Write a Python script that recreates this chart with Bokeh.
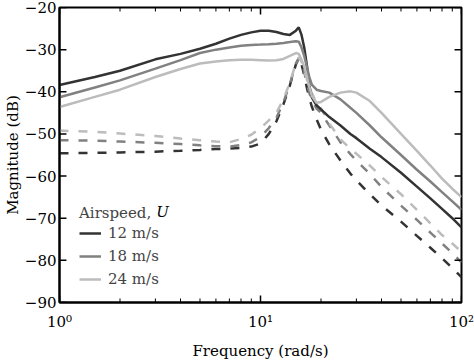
from bokeh.plotting import figure
from bokeh.models import Legend, LegendItem, Label, FixedTicker
from bokeh.embed import file_html
from bokeh.resources import INLINE

# ---------------- data ----------------
freq = [1, 1.5, 2, 3, 4, 5, 6, 7, 8, 9, 10, 11, 12, 13, 14, 15, 15.5, 16,
        16.5, 17, 17.5, 18, 19, 20, 22, 25, 28, 30, 35, 40, 50, 60, 70, 80,
        90, 100]

solid_12 = [-38.4, -36.5, -35.0, -32.3, -31.0, -29.8, -28.6, -27.4, -26.5,
            -25.9, -25.5, -25.5, -25.8, -26.3, -26.5, -25.5, -24.7, -26.5,
            -29.5, -33.6, -38.5, -41.3, -43.2, -44.2, -46.0, -48.0, -50.0,
            -51.0, -53.5, -55.5, -59.2, -62.5, -65.3, -67.8, -70.0, -72.2]
solid_18 = [-41.3, -39.0, -37.3, -34.5, -32.5, -30.8, -30.0, -29.5, -29.1,
            -28.9, -28.8, -28.7, -28.6, -28.4, -28.2, -28.0, -28.1, -29.5,
            -31.5, -34.0, -36.5, -38.3, -39.5, -39.8, -40.2, -41.8, -43.8,
            -45.0, -48.0, -50.8, -55.0, -58.5, -61.3, -63.8, -66.0, -68.0]
solid_24 = [-43.6, -41.2, -39.5, -36.5, -34.6, -33.3, -32.8, -32.5, -32.4,
            -32.4, -32.5, -32.6, -32.5, -32.2, -31.5, -30.8, -31.0, -32.4,
            -34.0, -36.3, -38.8, -41.0, -42.6, -42.4, -41.2, -40.2, -39.9,
            -40.2, -42.2, -45.0, -50.0, -54.0, -57.5, -60.6, -63.0, -65.0]

dash_12 = [-54.6, -54.5, -54.4, -54.2, -54.0, -53.8, -53.6, -53.5, -53.3,
           -53.0, -52.3, -50.0, -47.0, -43.0, -38.5, -33.5, -32.0, -33.5,
           -36.0, -39.0, -41.5, -43.5, -46.5, -49.0, -52.5, -56.3, -59.4,
           -61.0, -64.3, -67.0, -70.8, -74.2, -77.0, -79.5, -81.8, -84.0]
dash_18 = [-51.5, -51.6, -51.8, -52.1, -52.4, -52.7, -52.9, -53.0, -52.6,
           -52.0, -50.7, -48.6, -46.2, -42.5, -38.2, -33.3, -32.0, -33.0,
           -35.3, -38.0, -40.3, -42.0, -44.0, -45.0, -48.0, -52.0, -54.8,
           -56.3, -59.5, -62.6, -67.0, -70.4, -73.4, -76.0, -78.3, -80.5]
dash_24 = [-49.2, -49.5, -49.9, -50.5, -51.1, -51.5, -51.8, -52.0, -51.2,
           -50.2, -48.6, -46.8, -45.0, -41.8, -37.8, -33.2, -31.8, -32.8,
           -34.8, -37.0, -38.8, -40.3, -42.5, -44.0, -47.5, -51.3, -53.5,
           -54.7, -57.5, -60.2, -64.3, -68.0, -71.2, -74.0, -76.0, -78.0]

series_labels = ["12 m/s", "18 m/s", "24 m/s"]
series_colors = ["#333333", "#818181", "#bcbcbc"]
legend_title = "Airspeed,"
legend_title_symbol = "U"

y_ticks = [-90, -80, -70, -60, -50, -40, -30, -20]
y_tick_labels = ["\u221290", "\u221280", "\u221270", "\u221260", "\u221250",
                 "\u221240", "\u221230", "\u221220"]
x_ticks = [1, 10, 100]
x_minor_ticks = [2, 3, 4, 5, 6, 7, 8, 9, 20, 30, 40, 50, 60, 70, 80, 90]
x_tick_labels = ["10\u2070", "10\u00b9", "10\u00b2"]

FONT = "DejaVu Serif"
FS = "15px"

X_MIN, X_MAX = 1, 100
Y_MIN, Y_MAX = -90, -20

p = figure(width=474, height=362, x_axis_type="log", x_range=(X_MIN, X_MAX),
           y_range=(Y_MIN, Y_MAX), output_backend="svg",
           toolbar_location=None, min_border_left=0, min_border_right=13,
           min_border_top=7, min_border_bottom=60)
p.grid.visible = False
p.outline_line_color = "black"
p.outline_line_width = 2
p.background_fill_color = None
p.border_fill_color = "white"

solids = [solid_12, solid_18, solid_24]
dashes = [dash_12, dash_18, dash_24]
solid_renderers = []
for vals, col in zip(dashes, series_colors):
    p.line(freq, vals, line_color=col, line_width=2.5, line_dash="9 10")
for vals, col in zip(solids, series_colors):
    r = p.line(freq, vals, line_color=col, line_width=2.5)
    solid_renderers.append(r)

# inward tick marks on all four sides (lengths in data units)
maj_dy, min_dy = 1.65, 0.95          # ~7 px / ~4 px vertically
maj_fx = 1.083                        # ~7 px horizontally on log axis
tick_kw = dict(line_color="black")
nb, nm = len(x_ticks), len(x_minor_ticks)
p.segment(x_ticks, [Y_MIN] * nb, x_ticks, [Y_MIN + maj_dy] * nb,
          line_width=1.5, **tick_kw)
p.segment(x_ticks, [Y_MAX] * nb, x_ticks, [Y_MAX - maj_dy] * nb,
          line_width=1.5, **tick_kw)
p.segment(x_minor_ticks, [Y_MIN] * nm, x_minor_ticks,
          [Y_MIN + min_dy] * nm, line_width=1, **tick_kw)
p.segment(x_minor_ticks, [Y_MAX] * nm, x_minor_ticks,
          [Y_MAX - min_dy] * nm, line_width=1, **tick_kw)
ny = len(y_ticks)
p.segment([X_MIN] * ny, y_ticks, [X_MIN * maj_fx] * ny, y_ticks,
          line_width=1.5, **tick_kw)
p.segment([X_MAX] * ny, y_ticks, [X_MAX / maj_fx] * ny, y_ticks,
          line_width=1.5, **tick_kw)


def style_axis(ax):
    ax.axis_line_width = 2
    ax.axis_line_color = "black"
    ax.major_tick_in = 0
    ax.major_tick_out = 0
    ax.minor_tick_in = 0
    ax.minor_tick_out = 0
    ax.minor_tick_line_color = None
    ax.major_label_text_font = FONT
    ax.major_label_text_font_size = FS
    ax.major_label_text_color = "black"
    ax.axis_label_text_font = FONT
    ax.axis_label_text_font_size = FS
    ax.axis_label_text_font_style = "normal"
    ax.axis_label_text_color = "black"


xa = p.xaxis[0]
style_axis(xa)
xa.ticker = FixedTicker(ticks=x_ticks)
xa.major_label_overrides = dict(zip(x_ticks, x_tick_labels))
xa.major_label_standoff = 10
xa.axis_label = "Frequency (rad/s)"
xa.axis_label_standoff = 8

ya = p.yaxis[0]
style_axis(ya)
ya.ticker = FixedTicker(ticks=y_ticks)
ya.major_label_overrides = dict(zip(y_ticks, y_tick_labels))
ya.major_label_standoff = 3
ya.axis_label = "Magnitude (dB)"
ya.axis_label_standoff = 0

items = [LegendItem(label=lab, renderers=[r])
         for lab, r in zip(series_labels, solid_renderers)]
legend = Legend(items=items, location=(20, 13), title=legend_title,
                title_text_font=FONT, title_text_font_size=FS,
                title_text_font_style="normal", title_standoff=1,
                label_text_font=FONT, label_text_font_size=FS,
                glyph_width=22, glyph_height=20, label_height=20,
                label_standoff=7, spacing=3, padding=0, margin=0,
                border_line_color=None, background_fill_alpha=0)
p.add_layout(legend, "center")

u_label = Label(x=3.03, y=-68.6, text=legend_title_symbol, text_font=FONT,
                text_font_size=FS, text_font_style="italic",
                text_baseline="middle", text_align="left",
                text_color="black")
p.add_layout(u_label)

open("out.html", "w").write(file_html(p, INLINE))
